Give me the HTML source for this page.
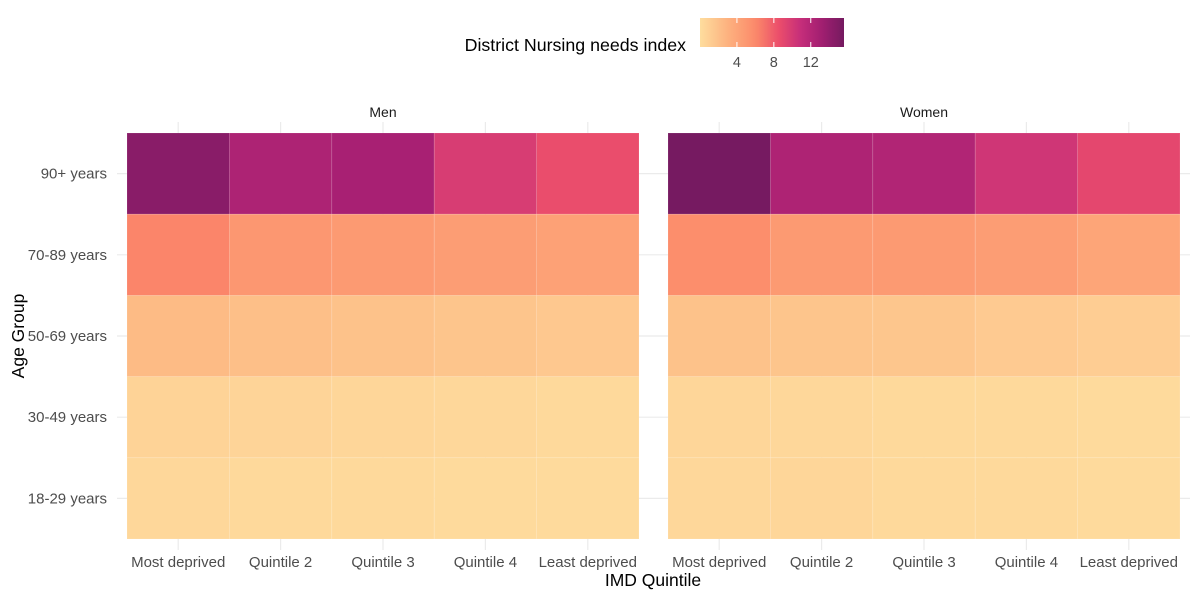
<!DOCTYPE html>
<html><head><meta charset="utf-8"><style>
body{margin:0;background:#fff}
svg text{font-family:"Liberation Sans",sans-serif}
</style></head><body>
<svg id="c" width="1200" height="600"></svg>
<script>
const ageGroups=["90+ years","70-89 years","50-69 years","30-49 years","18-29 years"];
const quintiles=["Most deprived","Quintile 2","Quintile 3","Quintile 4","Least deprived"];
const panels=["Men","Women"];
const menValues=[[14.5,12.5,12.8,9.8,8.6],[6.2,5.0,4.8,4.6,4.3],[2.4,2.1,1.9,1.7,1.5],[0.7,0.6,0.5,0.4,0.3],[0.4,0.3,0.3,0.2,0.2]];
const womenValues=[[15.5,12.4,12.2,10.3,9.0],[5.7,4.8,4.8,4.6,4.0],[1.9,1.7,1.6,1.3,1.1],[0.5,0.4,0.3,0.3,0.2],[0.4,0.5,0.3,0.3,0.2]];
const legendTicks=[4,8,12];
const vmin=0, vmax=15.6;
const stops=[[0,'#FEDD9E'],[3,'#FDB27F'],[6,'#FC8A6A'],[8.5,'#EC4E6B'],[11,'#C42D7A'],[13,'#A51F72'],[15.6,'#741A60']];
function hex(h){return [1,3,5].map(i=>parseInt(h.substr(i,2),16));}
function color(v){v=Math.max(vmin,Math.min(vmax,v));for(let i=1;i<stops.length;i++){if(v<=stops[i][0]){const t=(v-stops[i-1][0])/(stops[i][0]-stops[i-1][0]);const a=hex(stops[i-1][1]),b=hex(stops[i][1]);return 'rgb('+a.map((x,k)=>Math.round(x+(b[k]-x)*t)).join(',')+')';}}return stops[stops.length-1][1];}
const svg=document.getElementById('c');const NS='http://www.w3.org/2000/svg';
function el(tag,attrs,parent){const e=document.createElementNS(NS,tag);for(const k in attrs)e.setAttribute(k,attrs[k]);(parent||svg).appendChild(e);return e;}
const panelX=[127,668], panelW=512, topY=133, rowH=81.2;
const colW=panelW/quintiles.length;
ageGroups.forEach((a,i)=>{const y=topY+rowH*(i+0.5);const g=el('line',{x1:117,x2:1190,y1:y,y2:y,stroke:'#EBEBEB','stroke-width':1.2});

});
panelX.forEach(px=>quintiles.forEach((q,j)=>{const x=px+colW*(j+0.5);const g=el('line',{x1:x,x2:x,y1:122,y2:550,stroke:'#EBEBEB','stroke-width':1.2});

}));
[menValues,womenValues].forEach((vals,p)=>{
  const px=panelX[p];
  const t=el('text',{x:px+panelW/2,y:117,'text-anchor':'middle','font-size':14,fill:'#1a1a1a'});t.textContent=panels[p];
  
  
  vals.forEach((row,i)=>row.forEach((v,j)=>{
    const r=el('rect',{x:px+colW*j,y:topY+rowH*i,width:colW,height:rowH,fill:color(v),stroke:'rgba(255,255,255,0.15)','stroke-width':0.8});
    
    
  }));
  quintiles.forEach((q,j)=>{const tx=el('text',{x:px+colW*(j+0.5),y:567,'text-anchor':'middle','font-size':15,fill:'#4d4d4d'});tx.textContent=q;
  
  });
});
ageGroups.forEach((a,i)=>{const tx=el('text',{x:107,y:topY+rowH*(i+0.5)+5,'text-anchor':'end','font-size':15,fill:'#4d4d4d'});tx.textContent=a;

});
const xt=el('text',{x:653,y:586,'text-anchor':'middle','font-size':17.5,fill:'#000'});xt.textContent='IMD Quintile';


const yt=el('text',{x:0,y:0,'text-anchor':'middle','font-size':17.5,fill:'#000',transform:'translate(24,336) rotate(-90)'});yt.textContent='Age Group';


const lg=el('g',{});


const lt=el('text',{x:686,y:51,'text-anchor':'end','font-size':17.8,fill:'#000'},lg);lt.textContent='District Nursing needs index';


const lx=700,lw=144,ly=18,lh=29;
const defs=el('defs',{});const gr=el('linearGradient',{id:'lgGrad',x1:0,x2:1,y1:0,y2:0},defs);
for(let k=0;k<=20;k++){const v=vmin+(vmax-vmin)*k/20;el('stop',{offset:(k/20),'stop-color':color(v)},gr);}
const lb=el('rect',{x:lx,y:ly,width:lw,height:lh,fill:'url(#lgGrad)'},lg);


legendTicks.forEach(v=>{const x=lx+(v-vmin)/(vmax-vmin)*lw;
el('line',{x1:x,x2:x,y1:ly,y2:ly+5,stroke:'#fff','stroke-width':1},lg);
el('line',{x1:x,x2:x,y1:ly+lh-5,y2:ly+lh,stroke:'#fff','stroke-width':1},lg);
const tx=el('text',{x:x,y:67,'text-anchor':'middle','font-size':14.5,fill:'#4d4d4d'},lg);tx.textContent=v;

});
</script>
</body></html>
